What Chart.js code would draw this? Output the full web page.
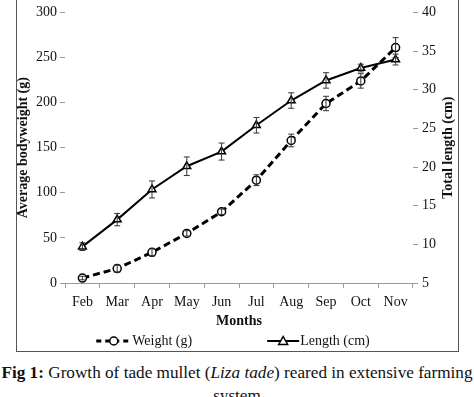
<!DOCTYPE html>
<html>
<head>
<meta charset="utf-8">
<script src="https://cdn.jsdelivr.net/npm/chart.js@4/dist/chart.umd.min.js"></script>
<style>
  body { margin: 0; background: #fff; width: 474px; height: 397px; overflow: hidden; position: relative; }
  #box { position: absolute; left: 16px; top: -3px; width: 441px; height: 353px; border: 1px solid #555; }
  #wrap { position: absolute; left: 0; top: 0; width: 474px; height: 352px; }
  #caption { position: absolute; left: -10px; width: 494px; top: 361px; text-align: center;
    font-family: "Liberation Serif", serif; font-size: 17.2px; line-height: 23px; color: #111; }
</style>
</head>
<body>
<div id="box"></div>
<div id="wrap"><canvas id="growth-chart" width="474" height="352"></canvas></div>
<div id="caption"><b>Fig 1:</b> Growth of tade mullet (<i>Liza tade</i>) reared in extensive farming system</div>
<script>
var months = ["Feb", "Mar", "Apr", "May", "Jun", "Jul", "Aug", "Sep", "Oct", "Nov"];
var weight = [5.5, 16, 34, 55, 79, 114, 158, 199, 224, 261];
var weightErr = [2, 4, 4, 3, 3, 6, 7, 8, 8, 11];
var length = [9.7, 13.2, 17.1, 20.1, 22.0, 25.4, 28.6, 31.2, 32.8, 33.9];
var lengthErr = [0.5, 0.8, 1.1, 1.2, 1.1, 1.0, 1.0, 1.0, 0.5, 0.7];
var weightTicks = [0, 50, 100, 150, 200, 250, 300];
var lengthTicks = [5, 10, 15, 20, 25, 30, 35, 40];

var serif = "'Liberation Serif', 'Times New Roman', serif";

function drawCircle(g, x, y) {
  g.beginPath(); g.arc(x, y, 4, 0, Math.PI * 2); g.fill(); g.stroke();
}
function drawTriangle(g, x, y) {
  g.beginPath(); g.moveTo(x, y - 4.5); g.lineTo(x + 4.5, y + 3.5); g.lineTo(x - 4.5, y + 3.5);
  g.closePath(); g.fill(); g.stroke();
}

var errorBars = {
  id: "errorBars",
  afterDatasetsDraw: function(chart) {
    var ctx = chart.ctx;
    var errs = [weightErr, lengthErr];
    ctx.save();
    ctx.strokeStyle = "#333";
    ctx.lineWidth = 1;
    chart.data.datasets.forEach(function(ds, i) {
      var yScale = chart.scales[ds.yAxisID];
      var meta = chart.getDatasetMeta(i);
      ds.data.forEach(function(v, j) {
        var x = meta.data[j].x;
        var top = yScale.getPixelForValue(v + errs[i][j]);
        var bot = yScale.getPixelForValue(v - errs[i][j]);
        ctx.beginPath();
        ctx.moveTo(x, top); ctx.lineTo(x, bot);
        ctx.moveTo(x - 3, top); ctx.lineTo(x + 3, top);
        ctx.moveTo(x - 3, bot); ctx.lineTo(x + 3, bot);
        ctx.stroke();
      });
    });
    ctx.restore();
  }
};

// right axis title reads bottom-to-top, plus the legend row
var extras = {
  id: "extras",
  afterDraw: function(chart) {
    var ctx = chart.ctx;
    var area = chart.chartArea;
    ctx.save();
    ctx.translate(448, (area.top + area.bottom) / 2);
    ctx.rotate(-Math.PI / 2);
    ctx.font = "bold 14px " + serif;
    ctx.fillStyle = "#111";
    ctx.textAlign = "center";
    ctx.textBaseline = "middle";
    ctx.fillText("Total length (cm)", 0, 0);
    ctx.restore();

    var ds = chart.data.datasets;
    ctx.save();
    ctx.font = "14px " + serif;
    var w1 = ctx.measureText(ds[0].label).width;
    var w2 = ctx.measureText(ds[1].label).width;
    var total = 35 + w1 + 76 + 32 + w2;
    var x = 232.5 - total / 2;
    var y = 341;
    ctx.strokeStyle = "#000";
    ctx.fillStyle = "#fff";
    ctx.lineWidth = 3;
    ctx.setLineDash([5, 4]);
    ctx.beginPath(); ctx.moveTo(x, y); ctx.lineTo(x + 35, y); ctx.stroke();
    ctx.setLineDash([]);
    ctx.lineWidth = 1.5;
    drawCircle(ctx, x + 17.5, y);
    ctx.fillStyle = "#111";
    ctx.textBaseline = "middle";
    ctx.fillText(ds[0].label, x + 36, y);
    x += 35 + w1 + 76;
    ctx.lineWidth = 2;
    ctx.beginPath(); ctx.moveTo(x, y); ctx.lineTo(x + 32, y); ctx.stroke();
    ctx.lineWidth = 1.5;
    ctx.fillStyle = "#fff";
    drawTriangle(ctx, x + 16, y);
    ctx.fillStyle = "#111";
    ctx.fillText(ds[1].label, x + 33, y);
    ctx.restore();
  }
};

var chart = new Chart("growth-chart", {
  type: "line",
  data: {
    labels: months,
    datasets: [{
      label: "Weight (g)",
      data: weight,
      yAxisID: "y",
      borderColor: "#000",
      borderWidth: 3,
      borderDash: [7, 4],
      pointStyle: "circle",
      pointRadius: 4,
      pointBorderWidth: 1.5,
      pointBackgroundColor: "#fff",
      pointBorderColor: "#000",
      tension: 0
    }, {
      label: "Length (cm)",
      data: length,
      yAxisID: "y1",
      borderColor: "#000",
      borderWidth: 2,
      pointStyle: "triangle",
      pointRadius: 4.5,
      pointBorderWidth: 1.5,
      pointBackgroundColor: "#fff",
      pointBorderColor: "#000",
      tension: 0
    }]
  },
  options: {
    responsive: false,
    animation: false,
    layout: { padding: { top: 9, left: 0, right: 0, bottom: 22 } },
    plugins: {
      tooltip: { enabled: false },
      legend: { display: false }
    },
    scales: {
      x: {
        type: "category",
        offset: true,
        afterFit: function(s) { s.height = 47; },
        grid: { offset: true, drawOnChartArea: false, tickLength: 5, color: "#999" },
        border: { color: "#999" },
        ticks: { color: "#111", padding: 6, font: { family: serif, size: 14 } },
        title: { display: true, text: "Months", color: "#111", padding: { top: 0, bottom: 0 },
          font: { family: serif, size: 14, weight: "bold" } }
      },
      y: {
        position: "left",
        min: 0, max: 300,
        afterBuildTicks: function(s) { s.ticks = weightTicks.map(function(v) { return { value: v }; }); },
        afterFit: function(s) { s.width = 65; },
        grid: { drawOnChartArea: false, tickLength: 5, color: "#999" },
        border: { display: false },
        ticks: { color: "#111", padding: 3, font: { family: serif, size: 14 } },
        title: { display: true, text: "Average bodyweight (g)", color: "#111", padding: { top: 15, bottom: 0 },
          font: { family: serif, size: 14, weight: "bold" } }
      },
      y1: {
        position: "right",
        min: 5, max: 40,
        afterBuildTicks: function(s) { s.ticks = lengthTicks.map(function(v) { return { value: v }; }); },
        afterFit: function(s) { s.width = 61; },
        grid: { drawOnChartArea: false, tickLength: 5, color: "#999" },
        border: { display: false },
        ticks: { color: "#111", padding: 4, font: { family: serif, size: 14 } }
      }
    }
  },
  plugins: [errorBars, extras]
});
</script>
</body>
</html>
